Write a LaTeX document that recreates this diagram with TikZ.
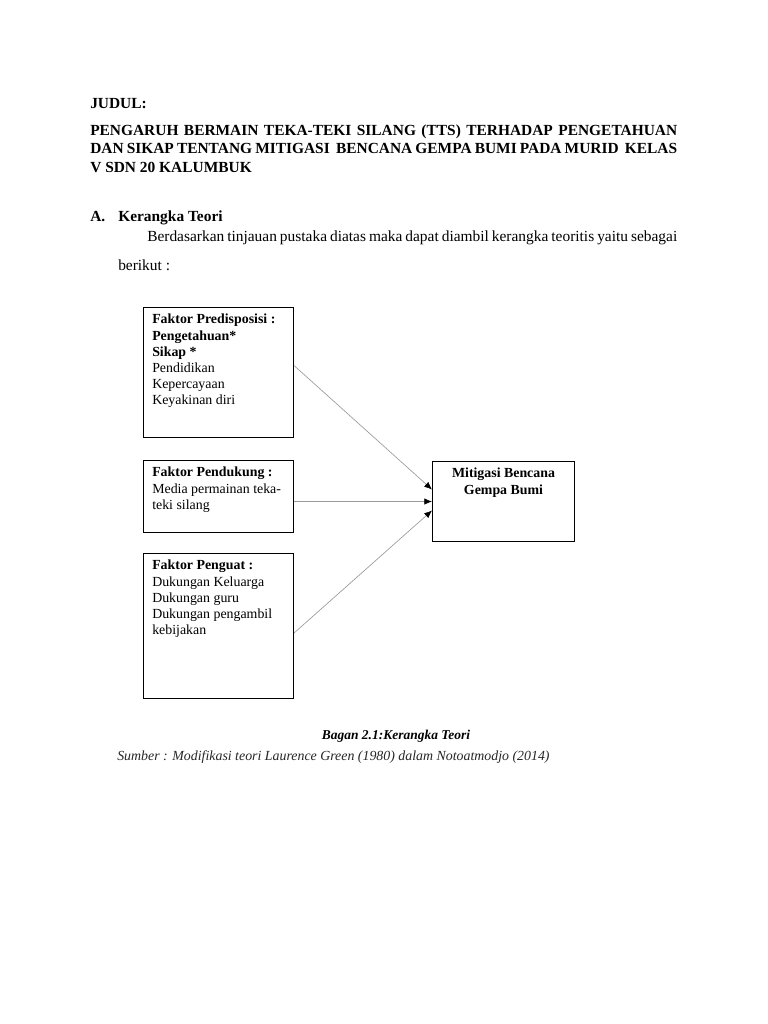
\documentclass[tikz,border=0pt]{standalone}
\usepackage{fontspec}
\setmainfont{Liberation Serif}
\usepackage{tikz}
\usetikzlibrary{positioning, arrows.meta}
\newlength{\pxl}
\setlength{\pxl}{0.02734cm}
\tikzset{
	teks/.style={anchor=base west, inner sep=0pt, font=\fontsize{12}{14}\selectfont},
	kotak/.style={draw, line width=0.8pt, inner sep=0pt},
	isi/.style={anchor=north west, align=left, inner sep=0pt, font=\fontsize{10.8}{12.6}\selectfont},
	panah/.style={draw=black!40, line width=0.5pt, -{Latex[black, length=6pt, width=5pt]}},
}

\begin{document}
\begin{tikzpicture}[x=\pxl, y=-\pxl]
				\useasboundingbox (0,0) rectangle (768,1024);
				\fill[white] (0,0) rectangle (768,1024);
				
				\node [teks, font=\fontsize{12}{14}\selectfont\bfseries] (judul) at (90,108) {JUDUL:};
				\node [teks, font=\fontsize{12}{14}\selectfont\bfseries] (j1) at (90,135)
				{\makebox[587\pxl][s]{PENGARUH BERMAIN TEKA-TEKI SILANG (TTS) TERHADAP PENGETAHUAN}};
				\node [teks, font=\fontsize{12}{14}\selectfont\bfseries] (j2) at (90,153)
				{\makebox[587\pxl][s]{DAN SIKAP TENTANG MITIGASI\ \ BENCANA GEMPA BUMI PADA MURID\ \ KELAS}};
				\node [teks, font=\fontsize{12}{14}\selectfont\bfseries] (j3) at (90,172) {V SDN 20 KALUMBUK};
				
				\node [teks, font=\fontsize{12}{14}\selectfont\bfseries] (a) at (90,221) {A.};
				\node [teks, font=\fontsize{12}{14}\selectfont\bfseries] (kt) at (118,221) {Kerangka Teori};
				\node [teks] (p1) at (147,241)
				{\makebox[530\pxl][s]{Berdasarkan tinjauan pustaka diatas maka dapat diambil kerangka teoritis yaitu sebagai}};
				\node [teks] (p2) at (118,270) {berikut :};
				
				\node [kotak, anchor=north west, minimum width=150\pxl, minimum height=130\pxl] (pre) at (143,307) {};
				\node [isi] at ([shift={(9,7)}]pre.north west)
				{\textbf{Faktor Predisposisi :}\\ \textbf{Pengetahuan*}\\ \textbf{Sikap *}\\ Pendidikan\\ Kepercayaan\\ Keyakinan diri};
				
				\node [kotak, anchor=north west, minimum width=150\pxl, minimum height=72\pxl] (dkg) at (143,460) {};
				\node [isi] at ([shift={(9,7)}]dkg.north west)
				{\textbf{Faktor Pendukung :}\\ Media permainan teka-\\ teki silang};
				
				\node [kotak, anchor=north west, minimum width=150\pxl, minimum height=145\pxl] (pgt) at (143,553) {};
				\node [isi] at ([shift={(9,7)}]pgt.north west)
				{\textbf{Faktor Penguat :}\\ Dukungan Keluarga\\ Dukungan guru\\ Dukungan pengambil\\ kebijakan};
				
				\node [kotak, anchor=north west, minimum width=142\pxl, minimum height=80\pxl] (mit) at (432,461) {};
				\node [isi, anchor=north, align=center, font=\fontsize{10.8}{12.6}\selectfont\bfseries] at ([yshift=-7\pxl]mit.north)
				{Mitigasi Bencana\\ Gempa Bumi};
				
				\draw [panah] ([yshift=7\pxl]pre.east) -- ([yshift=12\pxl]mit.west);
				\draw [panah] ([yshift=-5\pxl]dkg.east) -- (mit.west);
				\draw [panah] ([yshift=-7\pxl]pgt.east) -- ([yshift=-9\pxl]mit.west);
				
				\node [anchor=base, inner sep=0pt, font=\fontsize{10.5}{13}\selectfont\bfseries\itshape] (bagan) at (396,739) {Bagan 2.1:Kerangka Teori};
				\node [teks, font=\fontsize{10.8}{13}\selectfont\itshape, text=black!85] (sumber) at (117,760)
				{Sumber : Modifikasi teori Laurence Green (1980) dalam Notoatmodjo (2014)};
			\end{tikzpicture}
\end{document}
